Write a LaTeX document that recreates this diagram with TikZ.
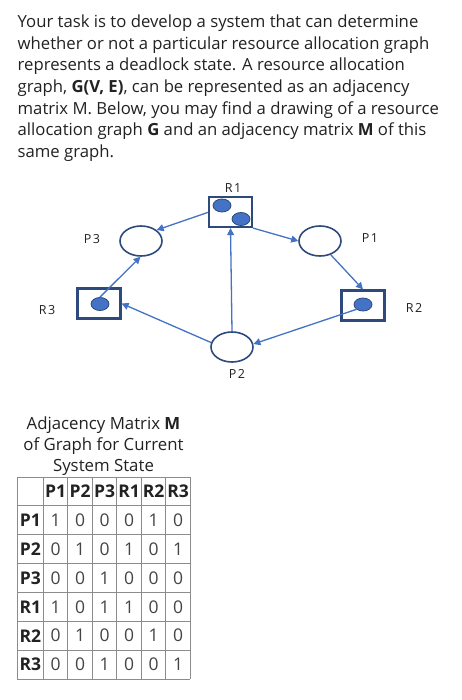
\documentclass[tikz,border=0pt]{standalone}
\usepackage{fontspec}
\setmainfont{Open Sans}
\newfontfamily\lblfont[LetterSpace=12]{Open Sans}
\usetikzlibrary{shapes.geometric,arrows.meta}
\definecolor{lineblue}{HTML}{4472C4}
\definecolor{navy}{HTML}{2E4A7D}
\definecolor{dotfill}{HTML}{4472C4}
\definecolor{txt}{HTML}{222222}
\definecolor{numtxt}{HTML}{444444}
\definecolor{gridc}{HTML}{8C8C8C}
\begin{document}
\begin{tikzpicture}[x=1pt,y=-1pt,
  proc/.style={ellipse, draw=navy, line width=1.6pt, minimum width=42pt, minimum height=30pt, inner sep=0pt, fill=white},
  res/.style={rectangle, draw=navy, line width=2.2pt, minimum width=43pt, minimum height=30pt, inner sep=0pt},
  inst/.style={ellipse, draw=navy, line width=0.8pt, fill=dotfill, minimum width=18pt, minimum height=13pt, inner sep=0pt},
  arr/.style={draw=lineblue, line width=1.3pt, -{Triangle[length=7pt,width=7pt]}},
  lbl/.style={font=\lblfont\fontsize{12.5}{14}\selectfont, text=txt},
  hdr/.style={font=\fontsize{17.5}{19}\selectfont\bfseries, text=txt},
  num/.style={font=\fontsize{17.5}{19}\selectfont, text=numtxt}
]
\useasboundingbox (0,0) rectangle (462,700);
\fill[white] (0,0) rectangle (462,700);

% paragraph
\node[anchor=north west, inner sep=0pt, align=left, text=txt,
  font=\fontsize{16.7}{21.7}\selectfont] (para) at (17.5,14.5)
 {Your task is to develop a system that can determine\\
  whether or not a particular resource allocation graph\\
  represents a deadlock state. A resource allocation\\
  graph, \textbf{G(V, E)}, can be represented as an adjacency\\
  matrix M. Below, you may find a drawing of a resource\\
  allocation graph \textbf{G} and an adjacency matrix \textbf{M} of this\\
  same graph.};

% graph nodes
\node[res] (R1) at (230.5,212) {};
\node[res] (R3) at (99,303.5) {};
\node[res] (R2) at (363,305.5) {};
\node[proc] (P3) at (141,241) {};
\node[proc] (P1) at (320,241) {};
\node[proc] (P2) at (232,347) {};

\node[inst] (d1) at (222,205.5) {};
\node[inst] (d2) at (241,219) {};
\node[inst] (d3) at (100,304) {};
\node[inst] (d4) at (363,304.5) {};

\node[lbl] (lR1) at (233,188) {R1};
\node[lbl] (lP3) at (92,239) {P3};
\node[lbl] (lP1) at (370,238) {P1};
\node[lbl] (lR3) at (47,310) {R3};
\node[lbl] (lR2) at (414,308) {R2};
\node[lbl] (lP2) at (237,374) {P2};

% edges
\draw[arr] (R1.west |- d1.south) -- (P3.35);
\draw[arr] (R1.south east) -- (P1.west);
\draw[arr] (P1.-52) -- (R2.north);
\draw[arr] (d4.south west) -- (P2.8);
\draw[arr] (P2.north) -- (R1.south);
\draw[arr] (P2.168) -- (R3.east);
\draw[arr] (d3.north) -- (P3.-92);

% table title
\node[align=center, text=txt, inner sep=0pt, font=\fontsize{16.8}{21}\selectfont] (ttl) at (103.5,446.5)
 {Adjacency Matrix \textbf{M}\\ of Graph for Current\\ System State};

% table grid
\foreach \x in {17.3,43.3,67.8,92.3,116.8,141.3,165.8,190.3}
  \draw[gridc, line width=0.8pt] (\x,477) -- (\x,679);
\foreach \y in {477,505.86,534.71,563.57,592.43,621.29,650.14,679}
  \draw[gridc, line width=0.8pt] (17.3,\y) -- (190.3,\y);

\foreach \lab [count=\i] in {P1,P2,P3,R1,R2,R3} {
  \node[hdr] (ch\i) at ({43.3+24.5*(\i-0.5)},491.43) {\lab};
  \node[hdr] (rh\i) at (30.3,{491.43+28.857*\i}) {\lab};
}
\foreach \row [count=\r] in {{1,0,0,0,1,0},{0,1,0,1,0,1},{0,0,1,0,0,0},{1,0,1,1,0,0},{0,1,0,0,1,0},{0,0,1,0,0,1}} {
  \foreach \v [count=\c] in \row
    \node[num] (m\r\c) at ({43.3+24.5*(\c-0.5)},{491.43+28.857*\r}) {\v};
}
\end{tikzpicture}
\end{document}
